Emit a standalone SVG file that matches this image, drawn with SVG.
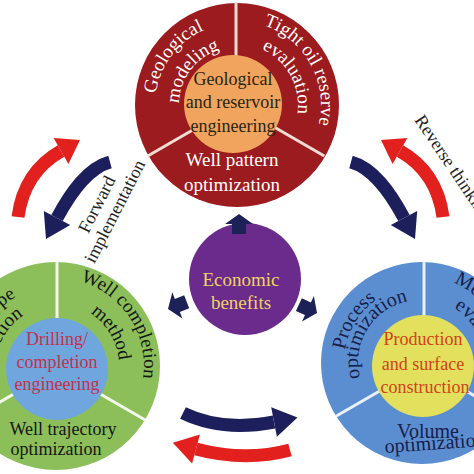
<svg xmlns="http://www.w3.org/2000/svg" xmlns:xlink="http://www.w3.org/1999/xlink" width="474" height="474" viewBox="0 0 474 474">
<style>
.t{font-family:"Liberation Serif","Times New Roman",serif;}
.w{fill:#ffffff;font-size:19px;}
.k{fill:#151515;font-size:19px;}
.b{fill:#17204a;font-size:20px;}
.in1{fill:#2a2410;font-size:18px;text-anchor:middle;}
.in2{fill:#c4304c;font-size:18px;text-anchor:middle;}
.in3{fill:#d2421c;font-size:18px;text-anchor:middle;}
.eco{fill:#f0d264;font-size:19px;text-anchor:middle;}
.lab{fill:#222222;font-size:18px;}
.dv1{stroke:#f4dcd4;stroke-width:3;}
.dv2{stroke:#f2f8ea;stroke-width:3;}
.dv3{stroke:#e8f0fa;stroke-width:3;}
.navy{fill:none;stroke:#1c1f5c;stroke-width:13;}
.red{fill:none;stroke:#e2211f;stroke-width:13;}
.navyh{fill:#1c1f5c;}
.redh{fill:#e2211f;}
.ba{fill:#1c2255;}
</style>
<defs>
<path id="pTL1" d="M161.5,137 A82,82 0 0 1 247,23.6"/>
<path id="pTL2" d="M183.6,127.7 A58,58 0 0 1 244.1,47.4"/>
<path id="pTR1" d="M238.5,21 A84,84 0 0 1 309,148.3"/>
<path id="pTR2" d="M238.1,44 A61,61 0 0 1 289.3,136.4"/>
<path id="pLR1" d="M51.4,278.1 A88,88 0 0 1 134.4,406"/>
<path id="pLR2" d="M54.9,303 A63,63 0 0 1 111.1,396.5"/>
<path id="pLL1" d="M-13.3,406 A80,80 0 0 1 16,296.7"/>
<path id="pLL2" d="M4,396 A60,60 0 0 1 23.5,315.5"/>
<path id="pRL1" d="M352.9,397.7 A76,76 0 0 1 422.7,286"/>
<path id="pRL2" d="M365.3,391.1 A62,62 0 0 1 422.2,300"/>
<path id="pRR1" d="M453.6,282.8 A86,86 0 0 1 494.5,405"/>
<path id="pRR2" d="M453.9,307.7 A64,64 0 0 1 469,403.1"/>
<path id="barrow" d="M0,0 L14,10 L7,10 L7,20 L-7,20 L-7,10 L-14,10 Z"/>
</defs>
<rect width="474" height="474" fill="#ffffff"/>

<g id="geological">
  <circle cx="237" cy="105" r="102" fill="#9b1b1e"/>
  <line class="dv1" x1="236" y1="105" x2="236" y2="2"/>
  <line class="dv1" x1="236" y1="105" x2="147.7" y2="156"/>
  <line class="dv1" x1="236" y1="105" x2="324.3" y2="156"/>
  <circle cx="233" cy="104" r="49" fill="#f0a45e"/>
  <text class="t w"><textPath href="#pTL1" startOffset="50%" text-anchor="middle">Geological</textPath></text>
  <text class="t w"><textPath href="#pTL2" startOffset="50%" text-anchor="middle">modeling</textPath></text>
  <text class="t w"><textPath href="#pTR1" startOffset="50%" text-anchor="middle">Tight oil reserve</textPath></text>
  <text class="t w"><textPath href="#pTR2" startOffset="50%" text-anchor="middle">evaluation</textPath></text>
  <text class="t w" x="232" y="166" text-anchor="middle">Well pattern</text>
  <text class="t w" x="232" y="191" text-anchor="middle">optimization</text>
  <text class="t in1" x="233" y="85">Geological</text>
  <text class="t in1" x="233" y="108">and reservoir</text>
  <text class="t in1" x="233" y="132">engineering</text>
</g>

<g id="drilling">
  <circle cx="56" cy="366" r="104" fill="#8cbf5a"/>
  <line class="dv2" x1="57" y1="369" x2="57" y2="262"/>
  <line class="dv2" x1="57" y1="369" x2="147" y2="421"/>
  <line class="dv2" x1="57" y1="369" x2="-33" y2="421"/>
  <circle cx="57" cy="369" r="51" fill="#6fa6dd"/>
  <text class="t k"><textPath href="#pLR1" startOffset="50%" text-anchor="middle">Well completion</textPath></text>
  <text class="t k"><textPath href="#pLR2" startOffset="50%" text-anchor="middle">method</textPath></text>
  <text class="t k"><textPath href="#pLL1" startOffset="100%" text-anchor="end">Well type</textPath></text>
  <text class="t k"><textPath href="#pLL2" startOffset="100%" text-anchor="end">selection</textPath></text>
  <text class="t k" x="63" y="435" text-anchor="middle" style="font-size:18px">Well trajectory</text>
  <text class="t k" x="56" y="455" text-anchor="middle" style="font-size:18px">optimization</text>
  <text class="t in2" x="57" y="345">Drilling/</text>
  <text class="t in2" x="57" y="368">completion</text>
  <text class="t in2" x="57" y="390">engineering</text>
</g>

<g id="production">
  <circle cx="422" cy="363" r="101" fill="#5b8ed0"/>
  <line class="dv3" x1="424" y1="366" x2="424" y2="262"/>
  <line class="dv3" x1="423" y1="366" x2="335.5" y2="416.5"/>
  <line class="dv3" x1="423" y1="366" x2="510" y2="416.5"/>
  <circle cx="423" cy="366" r="51" fill="#e2e05c"/>
  <text class="t b"><textPath href="#pRL1" startOffset="50%" text-anchor="middle">Process</textPath></text>
  <text class="t b"><textPath href="#pRL2" startOffset="50%" text-anchor="middle">optimization</textPath></text>
  <text class="t b"><textPath href="#pRR1">Measure</textPath></text>
  <text class="t b"><textPath href="#pRR2">evaluation</textPath></text>
  <text class="t b" x="428" y="438" text-anchor="middle">Volume</text>
  <text class="t b" x="385" y="453" transform="rotate(-4 385 453)">optimization</text>
  <text class="t in3" x="423" y="345">Production</text>
  <text class="t in3" x="423" y="370">and surface</text>
  <text class="t in3" x="425" y="393">construction</text>
</g>

<g id="economic">
  <circle cx="245" cy="279" r="56" fill="#6a2b8c"/>
  <text class="t eco" x="241" y="286">Economic</text>
  <text class="t eco" x="241" y="309">benefits</text>
</g>

<g id="connectors">
  <path class="red" d="M18,217 Q24,172 61,151"/>
  <polygon class="redh" points="53.6,138 80,140 68.4,164"/>
  <path class="navy" d="M110,162 C88,168 71,192 57,218"/>
  <polygon class="navyh" points="70.2,224.9 46,239 43.8,211.1"/>
  <g transform="translate(461,0) scale(-1,1)">
    <path class="red" d="M18,217 Q24,172 61,151"/>
    <polygon class="redh" points="53.6,138 80,140 68.4,164"/>
    <path class="navy" d="M110,162 C88,168 71,192 57,218"/>
    <polygon class="navyh" points="70.2,224.9 46,239 43.8,211.1"/>
  </g>
  <path class="navy" d="M183,413 Q222,432 274,422"/>
  <polygon class="navyh" points="276.9,436.7 297.5,417.4 271.2,407.3"/>
  <path class="red" d="M290,450 Q245,462 196,449"/>
  <polygon class="redh" points="199.9,434.5 172.8,442.8 192.1,463.5"/>
  <use href="#barrow" class="ba" transform="translate(239,214)"/>
  <use href="#barrow" class="ba" transform="translate(168,309) rotate(-111)"/>
  <use href="#barrow" class="ba" transform="translate(317,313) rotate(115)"/>
  <text class="t lab" text-anchor="middle" transform="translate(102,207) rotate(-63)">Forward</text>
  <text class="t lab" text-anchor="middle" transform="translate(120,214) rotate(-63)">implementation</text>
  <text class="t lab" transform="translate(414,120) rotate(56)">Reverse thinking</text>
</g>
</svg>
